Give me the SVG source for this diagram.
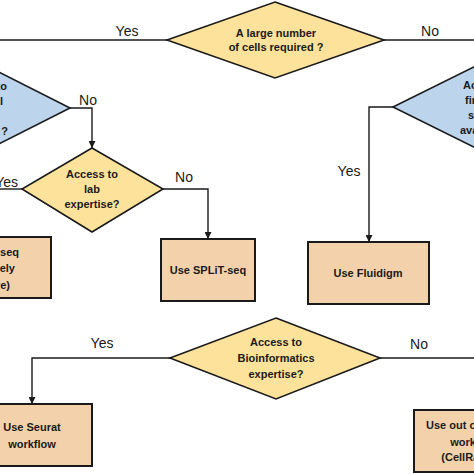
<svg xmlns="http://www.w3.org/2000/svg" width="474" height="474" viewBox="0 0 474 474">
<defs>
<marker id="arr" viewBox="0 0 10 10" refX="10" refY="5" markerWidth="7" markerHeight="7" orient="auto" markerUnits="userSpaceOnUse"><path d="M0,0 L10,5 L0,10 Z" fill="#1a1a1a"/></marker>
<style>
.yel{fill:#fde29b;stroke:#1a1a1a;stroke-width:1.6}
.blu{fill:#bcd4ec;stroke:#1a1a1a;stroke-width:1.6}
.box{fill:#f3d2ab;stroke:#1a1a1a;stroke-width:2}
.t{font-family:"Liberation Sans",Arial,sans-serif;font-size:11px;font-weight:bold;fill:#1a1a1a;text-anchor:middle}
.te{font-family:"Liberation Sans",Arial,sans-serif;font-size:11px;font-weight:bold;fill:#1a1a1a;text-anchor:end}
.ts{font-family:"Liberation Sans",Arial,sans-serif;font-size:11px;font-weight:bold;fill:#1a1a1a;text-anchor:start}
.lbl{font-family:"Liberation Sans",Arial,sans-serif;font-size:14px;fill:#1a1a1a}
.c{fill:none;stroke:#1a1a1a;stroke-width:1.4}
</style>
</defs>
<rect width="474" height="474" fill="#ffffff"/>
<g id="connectors">
<path class="c" d="M167,40 H-10"/>
<path class="c" d="M384,40 H484"/>
<path class="c" d="M70,108 H92 V148" marker-end="url(#arr)"/>
<path class="c" d="M22,189 H-10"/>
<path class="c" d="M163,189 H208 V239" marker-end="url(#arr)"/>
<path class="c" d="M393,107 H369 V242" marker-end="url(#arr)"/>
<path class="c" d="M170,358 H32 V404" marker-end="url(#arr)"/>
<path class="c" d="M380,358 H477 V410" marker-end="url(#arr)"/>
<text class="lbl" x="127" y="36" text-anchor="middle">Yes</text>
<text class="lbl" x="430" y="36" text-anchor="middle">No</text>
<text class="lbl" x="88" y="105" text-anchor="middle">No</text>
<text class="lbl" x="18" y="187" text-anchor="end">Yes</text>
<text class="lbl" x="184" y="182" text-anchor="middle">No</text>
<text class="lbl" x="349" y="176" text-anchor="middle">Yes</text>
<text class="lbl" x="102" y="348" text-anchor="middle">Yes</text>
<text class="lbl" x="419" y="349" text-anchor="middle">No</text>
</g>
<g id="q-large-number">
<polygon class="yel" points="275,2 384,40 275,78 167,40"/>
<text class="t" x="276" y="37">A large number</text>
<text class="t" x="276" y="51">of cells required ?</text>
</g>
<g id="q-left-blue">
<polygon class="blu" points="-15,65 70,108 -15,151 -100,108"/>
<text class="te" x="7" y="90">Access to</text>
<text class="te" x="3" y="105">a single cell</text>
<text class="te" x="-4" y="120">sorting</text>
<text class="te" x="8" y="135">facility ?</text>
</g>
<g id="q-lab-expertise">
<polygon class="yel" points="92,148 163,189 92,232 22,189"/>
<text class="t" x="92" y="178">Access to</text>
<text class="t" x="92" y="193">lab</text>
<text class="t" x="92" y="208">expertise?</text>
</g>
<g id="q-right-blue">
<polygon class="blu" points="478,65 563,107 478,149 393,107"/>
<text class="ts" x="463" y="89">Access to</text>
<text class="ts" x="465" y="104">financial</text>
<text class="ts" x="468" y="119">support</text>
<text class="ts" x="460" y="134">available?</text>
</g>
<g id="box-dropseq">
<rect class="box" x="-70" y="237" width="121" height="61"/>
<text class="te" x="19" y="256">Use Drop-seq</text>
<text class="te" x="15" y="272">(relatively</text>
<text class="te" x="10" y="289">expensive)</text>
</g>
<g id="box-split">
<rect class="box" x="161" y="239" width="94" height="62"/>
<text class="t" x="208" y="274">Use SPLiT-seq</text>
</g>
<g id="box-fluidigm">
<rect class="box" x="308" y="242" width="121" height="62"/>
<text class="t" x="368" y="277">Use Fluidigm</text>
</g>
<g id="q-bioinformatics">
<polygon class="yel" points="276,318 380,358 276,399 170,358"/>
<text class="t" x="276" y="346">Access to</text>
<text class="t" x="276" y="362">Bioinformatics</text>
<text class="t" x="276" y="378">expertise?</text>
</g>
<g id="box-seurat">
<rect class="box" x="-28" y="404" width="120" height="62"/>
<text class="t" x="32" y="431">Use Seurat</text>
<text class="t" x="32" y="448">workflow</text>
</g>
<g id="box-cellranger">
<rect class="box" x="414" y="410" width="120" height="62"/>
<text class="t" x="474" y="429">Use out of the box</text>
<text class="t" x="474" y="446">workflow</text>
<text class="t" x="474" y="461">(CellRanger)</text>
</g>
</svg>
